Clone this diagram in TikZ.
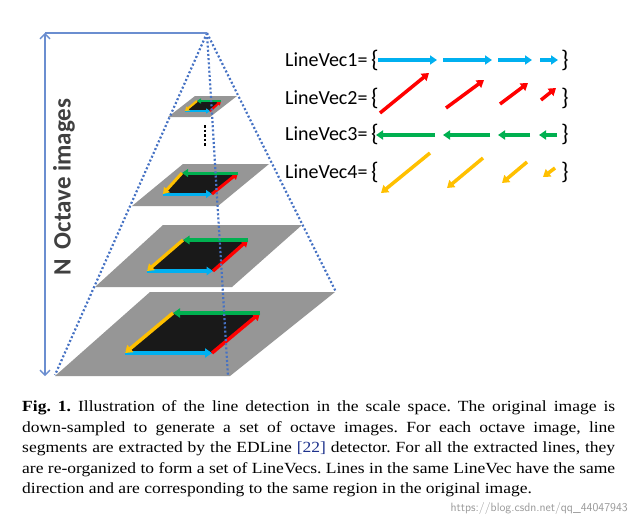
\documentclass[tikz,border=0pt]{standalone}
\usepackage{fontspec}
\setmainfont{Liberation Serif}
\newfontfamily\carfont{Carlito}
\newfontfamily\capfont{Liberation Serif}[FakeStretch=1.13]
\usetikzlibrary{arrows.meta}
\definecolor{lblue}{RGB}{0,176,240}
\definecolor{lred}{RGB}{255,0,0}
\definecolor{lgreen}{RGB}{0,176,80}
\definecolor{lyel}{RGB}{255,192,0}
\definecolor{pgrey}{RGB}{150,150,150}
\definecolor{dotblue}{RGB}{70,114,196}
\definecolor{refblue}{RGB}{30,50,140}
\tikzset{
 vec/.style={line width=3.5pt,-{Triangle[length=7pt,width=9pt]}},
 dotl/.style={dotblue,line width=2.2pt,dash pattern=on 2pt off 2.2pt},
 lab/.style={font=\carfont\fontsize{20}{22}\selectfont,anchor=west,inner sep=0pt},
 br/.style={font=\carfont\fontsize{24}{26}\selectfont,inner sep=0pt},
 captext/.style={font=\capfont\fontsize{15.5}{16}\selectfont,anchor=west,inner sep=0pt},
}
\begin{document}
\frenchspacing
\begin{tikzpicture}[x=1pt,y=-1pt]
\useasboundingbox[fill=white] (0,0) rectangle (640,527);
% planes
\foreach \a/\b/\c/\d/\e/\f in {
 150/335/230/55/292/376,
 163/302/232/95/225/287,
 183/269/218/132/164/206,
 195/237/210/168/96/117}{
 \fill[pgrey] (\a,\e) -- (\b,\e) -- (\c,\f) -- (\d,\f) -- cycle;
}
% black squares with arrows
\foreach \tlx/\trx/\ty/\blx/\brx/\by/\w/\h in {
 173/260/313/125/212/353/3.5/7,
 183/248/240/147/213/271/3.3/6.5,
 182/238/173/163/212/194/3/6,
 197/221/101/185/210/111/2.2/4}{
 \fill[black!90] (\tlx,\ty) -- (\trx,\ty) -- (\brx,\by) -- (\blx,\by) -- cycle;
 \coordinate (TL) at (\tlx,\ty); \coordinate (TR) at (\trx,\ty);
 \coordinate (BL) at (\blx,\by); \coordinate (BR) at (\brx,\by);
 \tikzset{sq/.style={line width=\w pt,-{Triangle[length=\h pt,width=1.3*\h pt]}}}
 \draw[sq,lblue] (BL) -- (BR);
 \draw[sq,lred] (BR) -- (TR);
 \draw[sq,lgreen] (TR) -- (TL);
 \draw[sq,lyel] (TL) -- (BL);
}
% pyramid
\coordinate (apex) at (207,33);
\coordinate (bl) at (55,375);
\coordinate (br) at (336,292);
\coordinate (bm) at (228,376);
\draw[dotl] (apex) -- (bl);
\draw[dotl] (apex) -- (br);
\draw[dotl] (apex) -- (bm);
\draw[black,line width=2.5pt,dash pattern=on 2.5pt off 2pt] (205,125) -- (205,147);
% height arrow
\coordinate (ht) at (45,33); \coordinate (hb) at (45,376);
\draw[dotblue!80,line width=1.3pt] (ht) -- (apex);
\draw[dotblue!80,line width=1.3pt,{Straight Barb[length=5pt,width=10pt]}-{Straight Barb[length=5pt,width=10pt]}] (ht) -- (hb);
\node[rotate=90,font=\carfont\bfseries\fontsize{25}{26}\selectfont,text=black!75] (nlab) at (64,187) {N\, Octave images};
% LineVecs
\foreach \y/\n in {60/1,98/2,134/3,172/4}{
 \node[lab] (lv\n) at (285,\y) {LineVec\n=};
 \node[br] (ob\n) at (375,\y) {\{};
 \node[br] (cb\n) at (565,\y) {\}};
}
\draw[vec,lblue] (378,60) -- (437,60);
\draw[vec,lblue] (443,60) -- (492,60);
\draw[vec,lblue] (498,60) -- (532,60);
\draw[vec,lblue] (540,60) -- (558,60);
\draw[vec,lred] (380,113) -- (429,73);
\draw[vec,lred] (446,108) -- (484,80);
\draw[vec,lred] (500,104) -- (528,83);
\draw[vec,lred] (541,100) -- (556,88);
\draw[vec,lgreen] (435,135) -- (376,135);
\draw[vec,lgreen] (490,135) -- (443,135);
\draw[vec,lgreen] (530,135) -- (498,135);
\draw[vec,lgreen] (557,135) -- (539,135);
\draw[vec,lyel] (430,153) -- (381,193);
\draw[vec,lyel] (483,158) -- (447,188);
\draw[vec,lyel] (527,162) -- (502,183);
\draw[vec,lyel] (555,168) -- (543,177);
% caption
\node[captext] (c1) at (22,408) {\makebox[593pt][s]{\textbf{Fig. 1.} Illustration of the line detection in the scale space. The original image is}};
\node[captext] (c2) at (22,429) {\makebox[593pt][s]{down-sampled to generate a set of octave images. For each octave image, line}};
\node[captext] (c3) at (22,449) {\makebox[593pt][s]{segments are extracted by the EDLine \textcolor{refblue}{[22]} detector. For all the extracted lines, they}};
\node[captext] (c4) at (22,470) {\makebox[593pt][s]{are re-organized to form a set of LineVecs. Lines in the same LineVec have the same}};
\node[captext] (c5) at (22,490) {direction and are corresponding to the same region in the original image.};
\node[font=\sffamily\fontsize{12}{13}\selectfont,text=black!40,anchor=east,inner sep=0pt] (wm) at (628,508) {https://blog.csdn.net/qq\_44047943};
\end{tikzpicture}
\end{document}
